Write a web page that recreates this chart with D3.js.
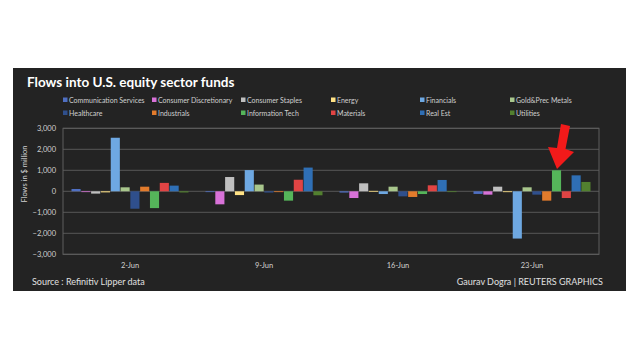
<!DOCTYPE html>
<html><head><meta charset="utf-8">
<script src="https://cdn.jsdelivr.net/npm/d3@7"></script>
<style>body{margin:0;background:#fff;}svg{display:block;}</style>
</head><body>
<script>
const dates = ["2-Jun", "9-Jun", "16-Jun", "23-Jun"];
const sectors = ["Communication Services","Consumer Discretionary","Consumer Staples","Energy","Financials","Gold&Prec Metals","Healthcare","Industrials","Information Tech","Materials","Real Est","Utilities"];
const commServices = [110, -20, -60, -125];
const consumerDisc = [-25, -620, -320, -160];
const consumerStaples = [-110, 680, 380, 220];
const energy = [-50, -180, 20, -40];
const financials = [2550, 1010, -130, -2250];
const goldPrec = [190, 320, 220, 190];
const healthcare = [-830, -60, -240, -160];
const industrials = [220, -20, -270, -445];
const infoTech = [-800, -445, -130, 1000];
const materials = [400, 550, 285, -320];
const realEst = [270, 1130, 540, 760];
const utilities = [-55, -190, -20, 445];
const yTicks = [-3000, -2000, -1000, 0, 1000, 2000, 3000];
const colors = ["#4f6fc2","#d872d8","#bfbfbf","#ffe285","#6ea8e2","#a8c68c","#2f4f8c","#e27b2c","#55b55a","#e04444","#2f6fb5","#52802f"];

const series = [commServices, consumerDisc, consumerStaples, energy, financials, goldPrec, healthcare, industrials, infoTech, materials, realEst, utilities];

const W = 640, H = 360;
const svg = d3.select("body").append("svg").attr("width", W).attr("height", H);
const font = "Lato, 'Open Sans', sans-serif";

// dark panel
svg.append("rect").attr("x", 13).attr("y", 68).attr("width", 613).attr("height", 223).attr("fill", "#232323");

svg.append("text").attr("x", 27).attr("y", 87).attr("fill", "#fff")
  .attr("font-family", font).attr("font-weight", "bold").attr("font-size", 13.5)
  .text("Flows into U.S. equity sector funds");

// legend
const legCols = [65, 154, 243, 333, 422, 512];
const leg = svg.append("g");
sectors.forEach((s, i) => {
  const cx = legCols[i % 6], cy = i < 6 ? 100 : 113;
  leg.append("rect").attr("x", cx - 2).attr("y", cy - 2.5).attr("width", 4.5).attr("height", 4.5).attr("fill", colors[i]);
  leg.append("text").attr("x", cx + 4).attr("y", cy + 2.5).attr("fill", "#d0d0d0")
    .attr("font-family", font).attr("font-size", 7).text(s);
});

const pLeft = 63, pRight = 599, pTop = 128.3, pBottom = 254.3;
const y = d3.scaleLinear().domain([-3000, 3000]).range([pBottom, pTop]);
const x0 = d3.scaleBand().domain(dates).range([pLeft, pRight]).padding(0);
const gap = 17;
const x1 = d3.scaleBand().domain(d3.range(sectors.length)).range([gap / 2, x0.bandwidth() - gap / 2]).paddingInner(0.07);

// grid
svg.append("g").selectAll("line").data(yTicks).join("line")
  .attr("x1", pLeft).attr("x2", pRight).attr("y1", d => y(d)).attr("y2", d => y(d))
  .attr("stroke", "#575757").attr("stroke-width", 1);
svg.append("rect").attr("x", pLeft).attr("y", pTop).attr("width", pRight - pLeft).attr("height", pBottom - pTop)
  .attr("fill", "none").attr("stroke", "#5e5e5e").attr("stroke-width", 1);

// y axis labels
const yAxis = d3.axisLeft(y).tickValues(yTicks).tickSize(0).tickPadding(7).tickFormat(d3.format(","));
const gy = svg.append("g").attr("transform", `translate(${pLeft},0)`).call(yAxis);
gy.select(".domain").remove();
gy.selectAll("text").attr("fill", "#d0d0d0").attr("font-family", font).attr("font-size", 7.5);

svg.append("text").attr("transform", "translate(27,174) rotate(-90)").attr("text-anchor", "middle")
  .attr("fill", "#d0d0d0").attr("font-family", font).attr("font-size", 7.5).text("Flows in $ million");

// x axis labels
const xAxis = d3.axisBottom(x0).tickSize(0).tickPadding(8);
const gx = svg.append("g").attr("transform", `translate(0,${pBottom})`).call(xAxis);
gx.select(".domain").remove();
gx.selectAll("text").attr("fill", "#d0d0d0").attr("font-family", font).attr("font-size", 7.5);

// bars
const bars = [];
dates.forEach((d, di) => series.forEach((s, si) => bars.push({d, si, v: s[di]})));
svg.append("g").selectAll("rect").data(bars).join("rect")
  .attr("x", b => x0(b.d) + x1(b.si))
  .attr("width", x1.bandwidth())
  .attr("y", b => y(Math.max(0, b.v)))
  .attr("height", b => Math.max(0.8, Math.abs(y(b.v) - y(0))))
  .attr("fill", b => colors[b.si]);

// arrow
svg.append("path")
  .attr("d", "M561,124 L570,126 L565.5,149 L574,152 L557,169 L548,147 L557,148 Z")
  .attr("fill", "#f21a1a");

// footer
svg.append("text").attr("x", 32).attr("y", 284.5).attr("fill", "#e0e0e0")
  .attr("font-family", font).attr("font-size", 9).text("Source : Refinitiv Lipper data");
svg.append("text").attr("x", 603).attr("y", 284.5).attr("text-anchor", "end").attr("fill", "#e0e0e0")
  .attr("font-family", font).attr("font-size", 9).text("Gaurav Dogra | REUTERS GRAPHICS");
</script>
</body></html>
